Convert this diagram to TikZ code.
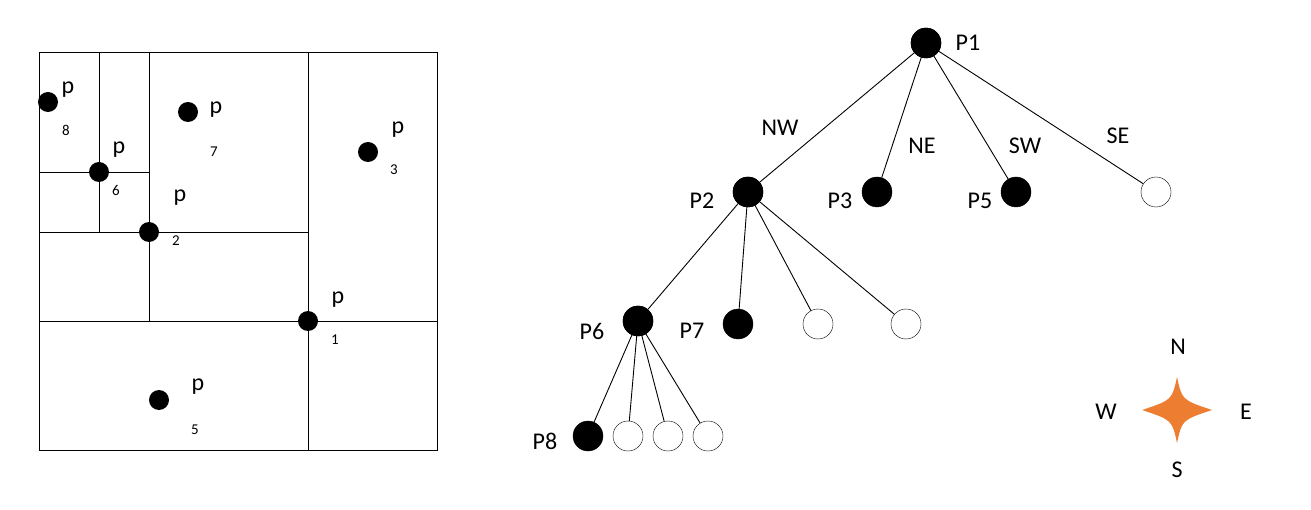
\documentclass[tikz,border=0pt]{standalone}
\usepackage{fontspec}
\setmainfont{Carlito}
\definecolor{comp}{RGB}{237,125,49}
\begin{document}
\begin{tikzpicture}[x=1pt,y=-1pt,
 pt/.style={circle,fill=black,inner sep=0pt,minimum size=20pt},
 big/.style={circle,draw=black,fill=black,inner sep=0pt,minimum size=30pt},
 emp/.style={circle,draw=black,fill=white,inner sep=0pt,minimum size=30pt},
 lab/.style={font=\fontsize{24}{26}\selectfont,inner sep=0pt},
 sub/.style={font=\fontsize{15}{17}\selectfont,inner sep=0pt},
 ln/.style={line width=0.9pt}]
\useasboundingbox (0,0) rectangle (1311,510);
% partition
\draw[ln] (39,52) rectangle (437,450);
\draw[ln] (308,52) -- (308,450);
\draw[ln] (39,321) -- (437,321);
\draw[ln] (39,232) -- (308,232);
\draw[ln] (149,52) -- (149,321);
\draw[ln] (99,52) -- (99,232);
\draw[ln] (39,172) -- (149,172);
\foreach \n/\x/\y/\px/\py/\sx/\sy in {1/308/321/338/300/335/340, 2/149/232/180/198/176/241, 3/368/152/398/130/394/170, 5/159/400/198/387/195/430, 6/99/172/119/150/116/190, 7/188/112/216/110/214/152, 8/48/102/68/90/66/130}{
 \node[pt] (q\n) at (\x,\y) {};
 \node[lab] (ql\n) at (\px,\py) {p};
 \node[sub] (qs\n) at (\sx,\sy) {\n};
}
% tree
\node[big] (P1) at (926,43) {};
\node[big] (P2) at (748,192) {};
\node[big] (P3) at (877,192) {};
\node[big] (P5) at (1016,192) {};
\node[emp] (E1) at (1156,192) {};
\node[big] (P6) at (638,321) {};
\node[big] (P7) at (738,324) {};
\node[emp] (E2) at (818,324) {};
\node[emp] (E3) at (906,324) {};
\node[big] (P8) at (588,436) {};
\node[emp] (E4) at (628,436) {};
\node[emp] (E5) at (668,436) {};
\node[emp] (E6) at (708,436) {};
\foreach \a/\b in {P1/P2,P1/P3,P1/P5,P1/E1,P2/P6,P2/P7,P2/E2,P2/E3,P6/P8,P6/E4,P6/E5,P6/E6}
 \draw[ln] (\a.center) -- (\b);
\foreach \a in {P1,P2,P6} \node[big] at (\a) {};
\node[lab] (l1) at (968,43) {P1};
\node[lab] (l2) at (702,201) {P2};
\node[lab] (l3) at (840,201) {P3};
\node[lab] (l5) at (980,201) {P5};
\node[lab] (l6) at (592,331) {P6};
\node[lab] (l7) at (692,331) {P7};
\node[lab] (l8) at (545,441) {P8};
\node[lab] (nw) at (780,128) {NW};
\node[lab] (ne) at (922,146) {NE};
\node[lab] (sw) at (1025,146) {SW};
\node[lab] (se) at (1118,136) {SE};
% compass
\fill[comp] (1177,377) .. controls (1182,400) .. (1212,410)
 .. controls (1182,420) .. (1177,443) .. controls (1172,420) .. (1142,410)
 .. controls (1172,400) .. (1177,377) -- cycle;
\node[lab] (cn) at (1178,347) {N};
\node[lab] (cs) at (1177,470) {S};
\node[lab] (cw) at (1106,412) {W};
\node[lab] (ce) at (1246,412) {E};
\end{tikzpicture}
\end{document}
